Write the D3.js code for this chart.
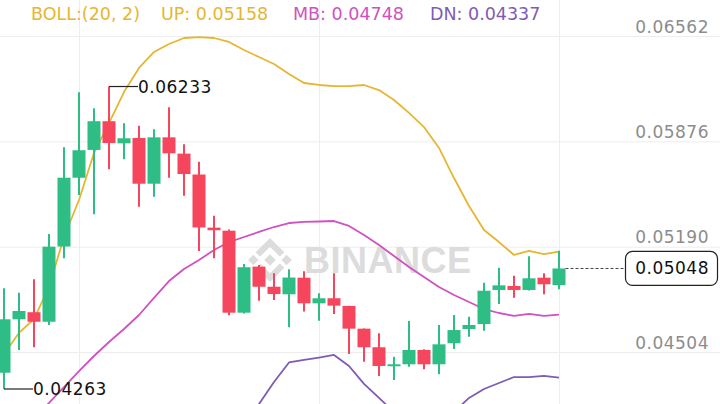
<!DOCTYPE html>
<html><head><meta charset="utf-8">
<script src="https://cdn.jsdelivr.net/npm/d3@7"></script>
<style>html,body{margin:0;padding:0;background:#fff;overflow:hidden}svg{display:block}</style>
</head><body><svg id="c" width="720" height="404"></svg>
<script>
// ---- data ----
const opens  = [0.04369,0.04717,0.04763,0.04701,0.05191,0.05639,0.05820,0.06007,0.05863,0.05898,0.05600,0.05902,0.05796,0.05660,0.05314,0.05294,0.04760,0.05060,0.04929,0.04880,0.04988,0.04821,0.04854,0.04804,0.04656,0.04535,0.04413,0.04424,0.04517,0.04424,0.04561,0.04654,0.04686,0.04908,0.04934,0.04908,0.04988,0.04940];
const highs  = [0.04919,0.04890,0.04977,0.05273,0.05837,0.06195,0.06091,0.06233,0.05993,0.05978,0.05954,0.06098,0.05857,0.05743,0.05392,0.05302,0.05077,0.05071,0.05017,0.05043,0.05030,0.04886,0.05017,0.04806,0.04657,0.04626,0.04473,0.04706,0.04522,0.04680,0.04745,0.04734,0.04955,0.05053,0.05001,0.05127,0.05017,0.05164];
const lows   = [0.04263,0.04517,0.04535,0.04680,0.05114,0.05527,0.05401,0.05694,0.05759,0.05450,0.05515,0.05639,0.05522,0.05162,0.05114,0.04743,0.04755,0.04838,0.04843,0.04665,0.04767,0.04708,0.04752,0.04491,0.04441,0.04348,0.04322,0.04408,0.04391,0.04359,0.04524,0.04604,0.04643,0.04817,0.04858,0.04905,0.04880,0.04912];
const closes = [0.04717,0.04771,0.04701,0.05190,0.05639,0.05818,0.06007,0.05865,0.05896,0.05600,0.05902,0.05798,0.05663,0.05315,0.05297,0.04760,0.05056,0.04929,0.04882,0.04989,0.04821,0.04854,0.04806,0.04656,0.04535,0.04413,0.04424,0.04517,0.04424,0.04554,0.04647,0.04680,0.04903,0.04938,0.04908,0.04984,0.04945,0.05048];
const upBand  = [0.04491,0.04628,0.04719,0.04927,0.05253,0.05494,0.05800,0.05995,0.06197,0.06354,0.06458,0.06510,0.06549,0.06555,0.06549,0.06523,0.06471,0.06425,0.06380,0.06315,0.06256,0.06243,0.06236,0.06236,0.06243,0.06210,0.06145,0.06061,0.05969,0.05833,0.05637,0.05455,0.05299,0.05220,0.05136,0.05162,0.05142,0.05158];
const midBand = [0.03866,0.03970,0.04074,0.04172,0.04276,0.04380,0.04478,0.04569,0.04654,0.04745,0.04856,0.04966,0.05045,0.05103,0.05168,0.05220,0.05253,0.05286,0.05318,0.05344,0.05351,0.05354,0.05357,0.05325,0.05266,0.05201,0.05129,0.05058,0.04993,0.04927,0.04875,0.04830,0.04784,0.04758,0.04739,0.04752,0.04739,0.04748];
const dnBand  = [0.03241,0.03312,0.03430,0.03417,0.03299,0.03267,0.03156,0.03143,0.03110,0.03136,0.03254,0.03423,0.03540,0.03651,0.03788,0.03918,0.04035,0.04165,0.04309,0.04436,0.04452,0.04468,0.04485,0.04413,0.04296,0.04205,0.04113,0.04055,0.04016,0.04022,0.04113,0.04205,0.04263,0.04302,0.04341,0.04341,0.04348,0.04337];
const yTickValues = [0.06562, 0.05876, 0.05190, 0.04504];
const xGridIndex = [5, 21, 37];
const legendLabels = ["BOLL:(20, 2)", "UP: 0.05158", "MB: 0.04748", "DN: 0.04337"];
const lastPrice = 0.05048;
const maxMark = {i: 7, v: 0.06233};
const minMark = {i: 0, v: 0.04263};

// ---- styles ----
const W = 720, H = 404;
const GREEN = "#2ebd85", RED = "#f6465d";
const C_UP = "#e6b632", C_MB = "#cf52c0", C_DN = "#7f5bb3";
const legendColors = [C_UP, C_UP, C_MB, C_DN];
const legendX = [31, 161, 293, 430];
const FONT = "'DejaVu Sans', sans-serif";

const svg = d3.select("#c");
svg.append("rect").attr("width", W).attr("height", H).attr("fill", "#fff");

const n = opens.length;
const x = d3.scaleLinear().domain([0, n - 1]).range([4, 559]);
const y = d3.scaleLinear().domain([0.04504, 0.06562]).range([352, 36]);

// grid: horizontal
const gy = svg.append("g").call(d3.axisLeft(y).tickValues(yTickValues).tickSize(-W).tickFormat(""));
gy.select(".domain").remove();
gy.selectAll("line").attr("stroke", "#ededed").attr("stroke-width", 1);
// grid: vertical
const gx = svg.append("g").attr("transform", `translate(0,${H})`)
  .call(d3.axisBottom(x).tickValues(xGridIndex).tickSize(-H).tickFormat(""));
gx.select(".domain").remove();
gx.selectAll("line").attr("stroke", "#ededed").attr("stroke-width", 1);

// watermark
const wm = svg.append("g").attr("fill", "#dcdcdc");
const s = 26, cx0 = 270, cy0 = 260;
const logoPaths = [
  "M0,-0.22 L0.22,0 L0,0.22 L-0.22,0 Z",
  "M-0.64,-0.2 L-0.44,0 L-0.64,0.2 L-0.84,0 Z",
  "M0.64,-0.2 L0.84,0 L0.64,0.2 L0.44,0 Z",
  "M-0.55,-0.3 L0,-0.85 L0.55,-0.3 L0.38,-0.13 L0,-0.51 L-0.38,-0.13 Z",
  "M-0.55,0.3 L0,0.85 L0.55,0.3 L0.38,0.13 L0,0.51 L-0.38,0.13 Z"
];
logoPaths.forEach(p => wm.append("path").attr("d", p)
  .attr("transform", `translate(${cx0},${cy0}) scale(${s})`));
wm.append("text").attr("x", 304).attr("y", 273)
  .attr("font-family", "'Liberation Sans', Arial, sans-serif").attr("font-weight", "bold")
  .attr("font-size", 36).attr("letter-spacing", 0.5).text("BINANCE");

// Bollinger lines
const line = arr => d3.line().x((d, i) => x(i)).y(d => y(d))(arr);
[[upBand, C_UP], [midBand, C_MB], [dnBand, C_DN]].forEach(([arr, c]) => {
  svg.append("path").attr("d", line(arr)).attr("fill", "none")
    .attr("stroke", c).attr("stroke-width", 1.8).attr("stroke-linejoin", "round");
});

// candles
const idx = opens.map((d, i) => i);
const cg = svg.append("g");
const bw = 13;
cg.selectAll("line.wick").data(idx).join("line")
  .attr("x1", i => x(i)).attr("x2", i => x(i))
  .attr("y1", i => y(highs[i])).attr("y2", i => y(lows[i]))
  .attr("stroke", i => closes[i] >= opens[i] ? GREEN : RED).attr("stroke-width", 2);
cg.selectAll("rect.body").data(idx).join("rect")
  .attr("x", i => x(i) - bw / 2)
  .attr("y", i => y(Math.max(opens[i], closes[i])))
  .attr("width", bw)
  .attr("height", i => Math.max(2, Math.abs(y(opens[i]) - y(closes[i]))))
  .attr("fill", i => closes[i] >= opens[i] ? GREEN : RED);

// legend
legendLabels.forEach((t, k) => {
  svg.append("text").attr("x", legendX[k]).attr("y", 20)
    .attr("font-family", FONT).attr("font-size", 17.5).attr("fill", legendColors[k]).text(t);
});

// right axis labels
const ax = svg.append("g").attr("transform", `translate(709,0)`)
  .call(d3.axisLeft(y).tickValues(yTickValues).tickSize(0).tickFormat(d3.format(".5f")));
ax.select(".domain").remove();
ax.selectAll("text").attr("x", 0).attr("dy", "-4px").attr("text-anchor", "end")
  .attr("font-family", FONT).attr("font-size", 17).attr("letter-spacing", 0.5)
  .attr("fill", "#8c8c8c").attr("dominant-baseline", "auto");

// max / min markers
function marker(m, yOff) {
  const px = x(m.i), py = y(m.v);
  svg.append("line").attr("x1", px).attr("x2", px + 29).attr("y1", py).attr("y2", py)
    .attr("stroke", "#222").attr("stroke-width", 1.2);
  svg.append("text").attr("x", px + 29).attr("y", py + 6)
    .attr("font-family", FONT).attr("font-size", 17).attr("letter-spacing", 0.5)
    .attr("fill", "#111").text(d3.format(".5f")(m.v));
}
marker(maxMark);
marker(minMark);

// last price
const ly = y(lastPrice);
svg.append("line").attr("x1", x(n - 1) + bw / 2).attr("x2", 625).attr("y1", ly).attr("y2", ly)
  .attr("stroke", "#444").attr("stroke-width", 1).attr("stroke-dasharray", "3,2");
svg.append("rect").attr("x", 625.5).attr("y", ly - 17).attr("width", 92).attr("height", 34)
  .attr("rx", 7).attr("fill", "#fff").attr("stroke", "#222").attr("stroke-width", 1.2);
svg.append("text").attr("x", 709).attr("y", ly + 6).attr("text-anchor", "end")
  .attr("font-family", FONT).attr("font-size", 17).attr("letter-spacing", 0.5)
  .attr("fill", "#111").text(d3.format(".5f")(lastPrice));
</script></body></html>
